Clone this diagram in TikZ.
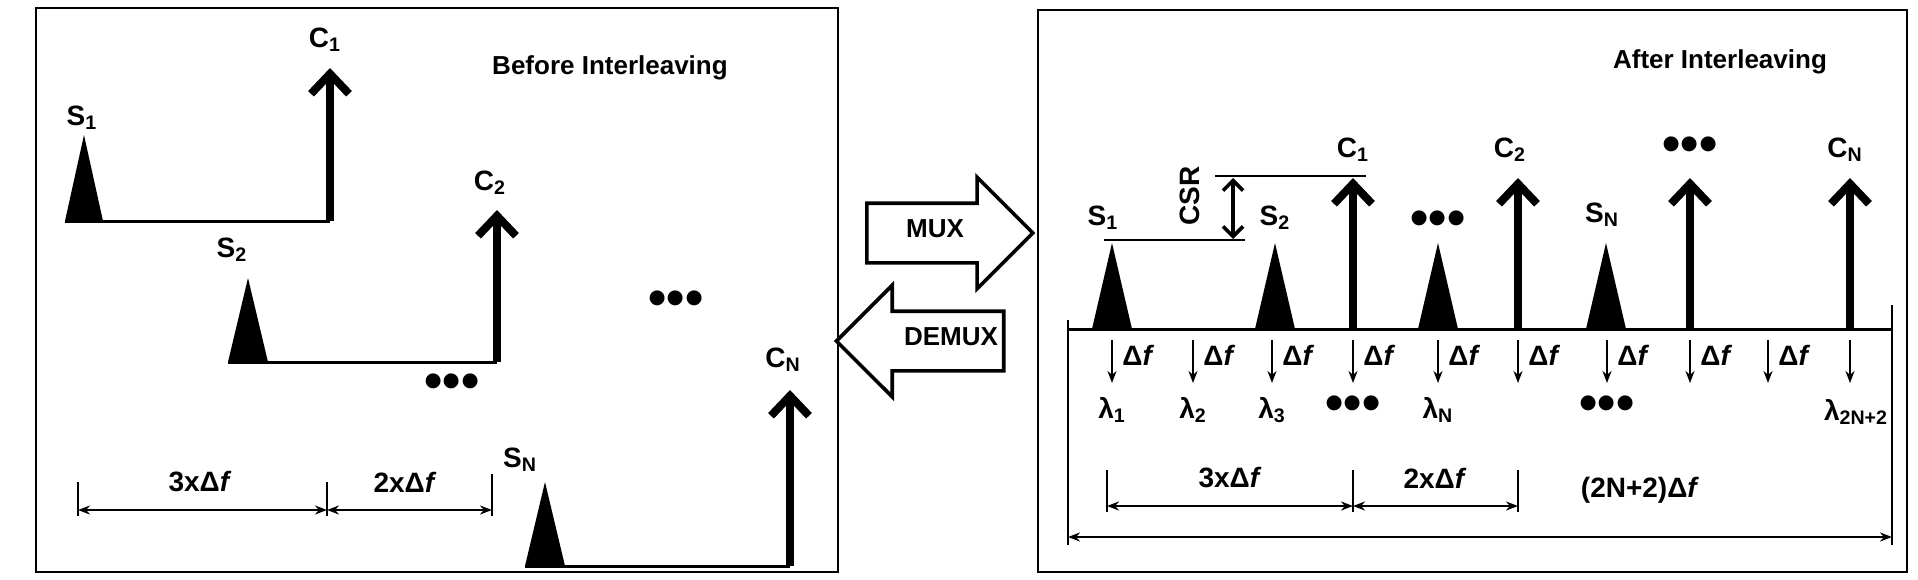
\documentclass[tikz,border=0pt]{standalone}
\usepackage{fontspec}
\setmainfont{Liberation Sans}
\usetikzlibrary{arrows.meta,shapes.arrows}
\begin{document}
\begin{tikzpicture}[x=0.5pt,y=-0.5pt,
  lbl/.style={font=\bfseries\fontsize{14}{16}\selectfont,inner sep=0},
  ttl/.style={font=\bfseries\fontsize{13}{15}\selectfont,inner sep=0},
  carrier/.style={line width=4pt,-{Straight Barb[length=10pt,width=19pt,line width=4pt]}},
  base/.style={line width=1.5pt},
  sig/.style={fill=black},
  dots/.style={font=\bfseries\fontsize{26}{26}\selectfont,inner sep=0},
  dim/.style={line width=1pt,{Stealth[length=6pt]}-{Stealth[length=6pt]}},
  down/.style={line width=1pt,-{Stealth[length=6pt]}},
  blk/.style={draw,line width=1.8pt,single arrow,single arrow head extend=13pt,minimum height=83pt,minimum width=28pt,inner ysep=0,inner xsep=2pt,font=\bfseries\fontsize{13}{15}\selectfont,text height=16pt,text depth=12pt}]
\useasboundingbox (0,0) rectangle (1918,579);
% boxes
\draw[line width=1pt] (36,8) rectangle (838,572);
\draw[line width=1pt] (1038,10) rectangle (1907,572);
% left panel
\node[ttl] (t1) at (610,68) {Before Interleaving};
\fill[sig] (65,221) -- (84,135) -- (103,221) -- cycle;
\node[lbl] (ls1) at (82,118) {S\textsubscript{1}};
\coordinate (b1) at (65,221); \coordinate (c1b) at (330,221); \coordinate (c1t) at (330,68);
\draw[base] (b1) -- (c1b);
\draw[carrier] (c1b) -- (c1t);
\node[lbl] (lc1) at (325,40) {C\textsubscript{1}};
\fill[sig] (228,362) -- (248,278) -- (268,362) -- cycle;
\node[lbl] (ls2) at (232,250) {S\textsubscript{2}};
\coordinate (b2) at (228,362); \coordinate (c2b) at (497,362); \coordinate (c2t) at (497,210);
\draw[base] (b2) -- (c2b);
\draw[carrier] (c2b) -- (c2t);
\node[lbl] (lc2) at (490,183) {C\textsubscript{2}};
\node[dots] (d1) at (676,303) {•••};
\node[dots] (d2) at (452,386) {•••};
\fill[sig] (525,566) -- (545,482) -- (565,566) -- cycle;
\node[lbl] (lsn) at (520,460) {S\textsubscript{N}};
\coordinate (b3) at (525,566); \coordinate (c3b) at (790,566); \coordinate (c3t) at (790,390);
\draw[base] (b3) -- (c3b);
\draw[carrier] (c3b) -- (c3t);
\node[lbl] (lcn) at (783,360) {C\textsubscript{N}};
\coordinate (k1) at (78,510); \coordinate (k2) at (327,510); \coordinate (k3) at (492,510);
\draw[line width=1pt] (78,482) -- (78,516) (327,482) -- (327,516) (492,474) -- (492,516);
\draw[dim] (k1) -- (k2);
\draw[dim] (k2) -- (k3);
\node[lbl] (m1) at (200,482) {3xΔ\textit{f}};
\node[lbl] (m2) at (405,482) {2xΔ\textit{f}};
% mux/demux
\node[blk] (mux) at (935,233) {MUX\hspace{16pt}};
\node[blk,shape border rotate=180] (demux) at (935,341) {\hspace{16pt}DEMUX};
% right panel
\node[ttl] (t2) at (1720,62) {After Interleaving};
\coordinate (r0) at (1068,329); \coordinate (r1) at (1892,329);
\draw[base] (r0) -- (r1);
\draw[line width=1pt] (1068,320) -- (1068,545) (1892,305) -- (1892,545);
\foreach \x/\n in {1112/1,1275/2,1438/3,1606/4}
  \fill[sig] (\x-20,329) -- (\x,243) -- (\x+20,329) -- cycle;
\node[lbl] (rs1) at (1103,218) {S\textsubscript{1}};
\node[lbl] (rs2) at (1275,218) {S\textsubscript{2}};
\node[lbl] (rsn) at (1602,215) {S\textsubscript{N}};
\node[dots] (rd1) at (1438,223) {•••};
\node[dots] (rd2) at (1690,149) {•••};
\foreach \x in {1353,1518,1690,1850}
  \draw[carrier] (\x,329) -- (\x,178);
\node[lbl] (rc1) at (1353,150) {C\textsubscript{1}};
\node[lbl] (rc2) at (1510,150) {C\textsubscript{2}};
\node[lbl] (rcn) at (1845,150) {C\textsubscript{N}};
% CSR
\draw[line width=1pt] (1104,240) -- (1245,240) (1215,176) -- (1366,176);
\coordinate (csrA) at (1233,178); \coordinate (csrB) at (1233,239);
\draw[line width=1.8pt,{Straight Barb[length=5pt,width=10pt]}-{Straight Barb[length=5pt,width=10pt]}] (csrA) -- (csrB);
\node[lbl,rotate=90] (csr) at (1190,196) {CSR};
% down arrows
\foreach \x [count=\i] in {1112,1193,1272,1353,1438,1518,1607,1690,1768,1850}
  \draw[down] (\x,340) -- (\x,383);
\foreach \x in {1112,1193,1272,1353,1438,1518,1607,1690,1768}
  \node[lbl,anchor=west] at (\x+10,355) {Δ\textit{f}};
\node[lbl] (l1) at (1112,410) {λ\textsubscript{1}};
\node[lbl] (l2) at (1193,410) {λ\textsubscript{2}};
\node[lbl] (l3) at (1272,410) {λ\textsubscript{3}};
\node[dots] (ld1) at (1353,408) {•••};
\node[lbl] (ln) at (1438,410) {λ\textsubscript{N}};
\node[dots] (ld2) at (1607,408) {•••};
\node[lbl] (l2n) at (1856,412) {λ\textsubscript{2N+2}};
% dims
\draw[line width=1pt] (1107,470) -- (1107,512) (1353,470) -- (1353,512) (1518,470) -- (1518,512);
\coordinate (q1) at (1107,506); \coordinate (q2) at (1353,506); \coordinate (q3) at (1518,506);
\draw[dim] (q1) -- (q2);
\draw[dim] (q2) -- (q3);
\node[lbl] (n1) at (1230,478) {3xΔ\textit{f}};
\node[lbl] (n2) at (1435,478) {2xΔ\textit{f}};
\node[lbl] (n3) at (1640,490) {(2N+2)Δ\textit{f}};
\coordinate (e0) at (1068,537); \coordinate (e1) at (1892,537);
\draw[dim] (e0) -- (e1);
\end{tikzpicture}
\end{document}
